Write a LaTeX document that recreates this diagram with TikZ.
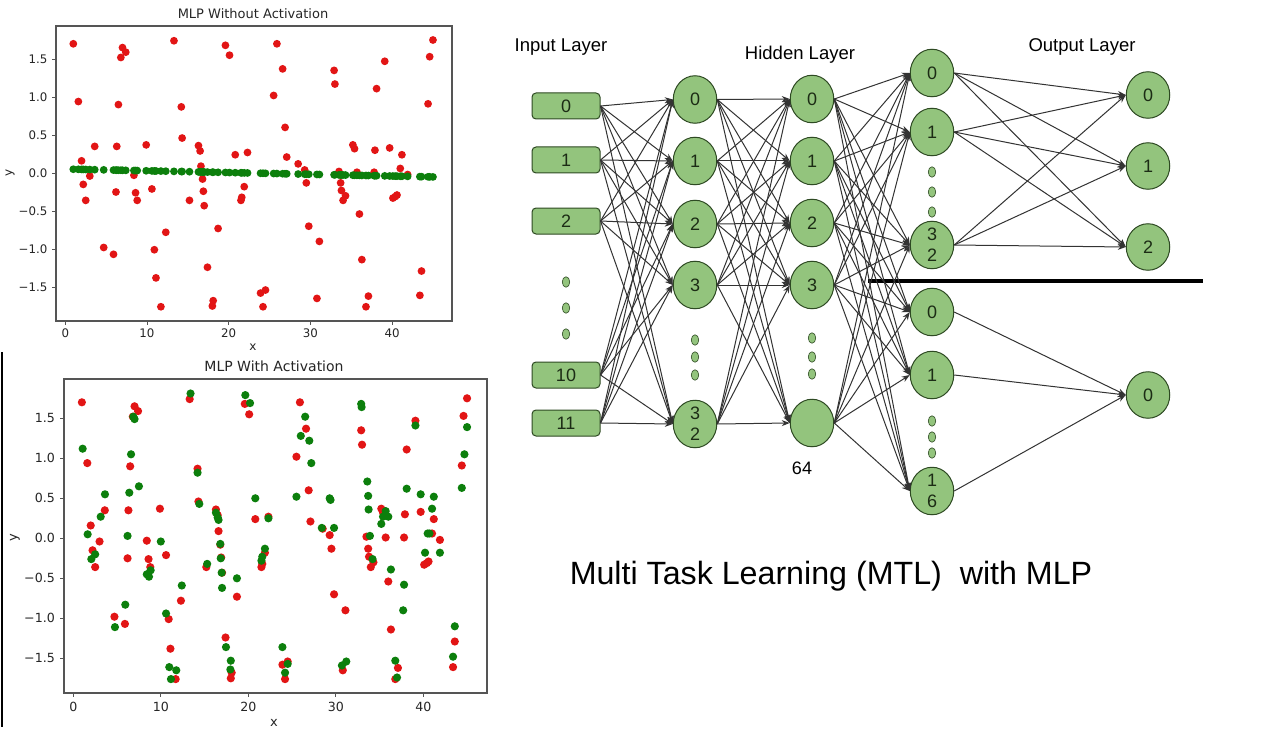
\documentclass[tikz,border=0pt]{standalone}
\usepackage{fontspec}
\setmainfont{Liberation Sans}
\newfontfamily\plotfont{DejaVu Sans}
\usetikzlibrary{arrows.meta,shapes.geometric}
\definecolor{nodegreen}{HTML}{93C47D}
\definecolor{nodeborder}{HTML}{2E4A23}
\definecolor{nodetext}{HTML}{1C2C15}
\definecolor{dotred}{HTML}{E21515}
\definecolor{dotgreen}{HTML}{0C7F0C}
\definecolor{axisgray}{HTML}{555555}
\definecolor{edgegray}{HTML}{333333}
\def\reddata{0.98/1.70, 1.6/0.94, 1.99/0.16, 2.2/-0.15, 2.5/-0.36, 3.0/-0.04, 3.6/0.35, 4.7/-0.98, 5.9/-1.07, 6.2/-0.25, 6.3/0.35, 6.5/0.90, 6.8/1.52, 7.0/1.65, 7.4/1.59, 8.4/-0.03, 8.6/-0.26, 8.8/-0.36, 9.9/0.37, 10.6/-0.21, 10.9/-1.01, 11.1/-1.38, 11.7/-1.76, 12.3/-0.78, 13.3/1.74, 14.2/0.87, 14.3/0.46, 15.2/-0.36, 16.3/0.36, 16.5/0.29, 16.6/0.09, 16.8/-0.08, 16.9/-0.24, 17.0/-0.43, 17.4/-1.24, 18.0/-1.75, 18.1/-1.68, 18.7/-0.73, 19.6/1.68, 20.1/1.55, 20.8/0.24, 21.5/-0.36, 21.6/-0.32, 21.9/-0.18, 22.3/0.27, 23.9/-1.58, 24.2/-1.76, 24.5/-1.54, 25.5/1.02, 25.9/1.70, 26.6/1.37, 26.9/0.60, 27.1/0.21, 28.5/0.12, 29.3/0.04, 29.5/-0.13, 29.8/-0.70, 30.8/-1.65, 31.1/-0.90, 32.9/1.35, 33.0/1.17, 33.5/0.02, 33.7/-0.13, 33.8/-0.23, 34.0/-0.36, 34.3/-0.30, 35.2/0.37, 35.4/0.32, 35.7/0.01, 36.0/-0.54, 36.3/-1.14, 36.8/-1.76, 37.1/-1.62, 37.8/0.01, 37.9/0.30, 38.1/1.11, 39.1/1.47, 39.7/0.33, 40.1/-0.33, 40.4/-0.31, 40.6/-0.29, 41.0/0.06, 41.2/0.24, 41.9/-0.02, 43.4/-1.61, 43.6/-1.29, 44.4/0.91, 44.6/1.53, 45.0/1.75}
\def\greendata{1.07/1.12, 1.64/0.05, 2.06/-0.26, 2.5/-0.20, 3.13/0.27, 3.62/0.55, 4.76/-1.11, 5.94/-0.83, 6.2/0.03, 6.4/0.57, 6.6/1.05, 6.86/1.52, 7.0/1.49, 7.5/0.65, 8.4/-0.45, 8.65/-0.48, 8.84/-0.40, 10.0/-0.04, 10.6/-0.94, 10.97/-1.61, 11.16/-1.76, 11.77/-1.65, 12.4/-0.59, 13.4/1.81, 14.2/0.82, 14.4/0.43, 15.3/-0.32, 16.3/0.32, 16.5/0.26, 16.6/0.23, 16.8/-0.07, 16.85/-0.25, 16.96/-0.43, 17.0/-0.62, 17.45/-1.36, 18.0/-1.53, 17.95/-1.64, 18.7/-0.5, 19.66/1.79, 20.2/1.69, 20.8/0.50, 21.5/-0.28, 21.6/-0.23, 21.9/-0.13, 22.3/0.25, 23.9/-1.36, 24.2/-1.68, 24.5/-1.57, 25.5/0.52, 26.0/1.28, 26.5/1.52, 26.97/1.22, 27.2/0.94, 28.4/0.13, 29.3/0.50, 29.4/0.48, 29.8/0.13, 30.7/-1.59, 31.2/-1.54, 32.9/1.68, 32.95/1.64, 33.6/0.71, 33.7/0.53, 33.75/0.36, 33.9/0.03, 34.2/-0.26, 35.2/0.18, 35.4/0.27, 35.7/0.34, 36.0/0.27, 36.3/-0.39, 36.8/-1.53, 37.0/-1.74, 37.8/-0.58, 37.7/-0.9, 38.1/0.62, 39.1/1.41, 39.7/0.55, 40.2/-0.18, 40.5/0.06, 40.7/0.06, 41.0/0.37, 41.2/0.52, 41.9/-0.18, 43.4/-1.48, 43.6/-1.10, 44.4/0.63, 44.7/1.05, 45.0/1.39}
\tikzset{
  inbox/.style={rectangle, rounded corners=4pt, draw=nodeborder, fill=nodegreen, text=nodetext,
    minimum width=68pt, minimum height=26pt, inner sep=0pt, line width=1pt,
    font=\fontsize{18}{21}\selectfont},
  neuron/.style={ellipse, draw=nodeborder, fill=nodegreen, text=nodetext,
    minimum width=43.5pt, minimum height=47.5pt, inner sep=0pt, line width=1pt, align=center,
    font=\fontsize{18}{21}\selectfont},
  vdot/.style={ellipse, draw=nodeborder, fill=nodegreen, minimum width=7.5pt,
    minimum height=10.5pt, inner sep=0pt, line width=0.6pt},
  conn/.style={draw=edgegray, line width=1pt, -{Stealth[length=8pt,width=6pt]}},
  layerlabel/.style={font=\fontsize{18.5}{22}\selectfont},
  axisframe/.style={draw=axisgray, line width=1.1pt},
  tickmark/.style={draw=axisgray, line width=0.9pt},
  ticklbl/.style={font=\plotfont\fontsize{11.8}{13}\selectfont, text=black!85, inner sep=0pt},
  ticklblb/.style={font=\plotfont\fontsize{12.6}{14}\selectfont, text=black!85, inner sep=0pt},
}
\begin{document}
\begin{tikzpicture}[x=1pt,y=-1pt]
\useasboundingbox (0,0) rectangle (1280,749);
\fill[white] (0,0) rectangle (1280,749);

% ---------------- top plot ----------------
\node[font=\plotfont\fontsize{13}{15}\selectfont, text=black!85] (t1) at (253,14) {MLP Without Activation};
\begin{scope}[shift={(65.3,173)}, x=8.17pt, y=76pt]
  \foreach \a/\b in \reddata { \fill[dotred] (\a,\b) circle[radius=3.9pt]; }
  \foreach \a/\b in \reddata { \fill[dotgreen] (\a,{0.052-0.0023*\a}) circle[radius=3.9pt]; }
\end{scope}
\draw[axisframe] (56,26) rectangle (452,321);
\foreach \k in {0,10,20,30,40} {
  \draw[tickmark] ({65.3+8.17*\k},321) -- ++(0,4);
  \node[ticklbl] at ({65.3+8.17*\k},333) {\k};
}
\foreach \v/\l in {1.5/1.5, 1.0/1.0, 0.5/0.5, 0/0.0, -0.5/−0.5, -1.0/−1.0, -1.5/−1.5} {
  \draw[tickmark] (56,{173-76*\v}) -- ++(-4,0);
  \node[ticklbl, anchor=east] at (47.5,{173-76*\v}) {\l};
}
\node[font=\plotfont\fontsize{12}{14}\selectfont, text=black!85] (xl1) at (253,347) {x};
\node[font=\plotfont\fontsize{12}{14}\selectfont, text=black!85, rotate=90] (yl1) at (10,173) {y};

% ---------------- bottom plot ----------------
\draw[line width=2pt] (1.5,352) -- (1.5,727);
\node[font=\plotfont\fontsize{14}{16}\selectfont, text=black!85] (t2) at (274,366) {MLP With Activation};
\begin{scope}[shift={(73.3,538.3)}, x=8.75pt, y=80pt]
  \foreach \a/\b in \reddata { \fill[dotred] (\a,\b) circle[radius=4.1pt]; }
  \foreach \a/\b in \greendata { \fill[dotgreen] (\a,\b) circle[radius=4.1pt]; }
\end{scope}
\draw[axisframe] (64,379) rectangle (487,693);
\foreach \k in {0,10,20,30,40} {
  \draw[tickmark] ({73.3+8.75*\k},693) -- ++(0,4);
  \node[ticklblb] at ({73.3+8.75*\k},707) {\k};
}
\foreach \v/\l in {1.5/1.5, 1.0/1.0, 0.5/0.5, 0/0.0, -0.5/−0.5, -1.0/−1.0, -1.5/−1.5} {
  \draw[tickmark] (64,{538.3-80*\v}) -- ++(-4,0);
  \node[ticklblb, anchor=east] at (55,{538.3-80*\v}) {\l};
}
\node[font=\plotfont\fontsize{13}{15}\selectfont, text=black!85] (xl2) at (274,723) {x};
\node[font=\plotfont\fontsize{13}{15}\selectfont, text=black!85, rotate=90] (yl2) at (15,538) {y};

% ---------------- network ----------------
\node[layerlabel] (lin) at (561,47) {Input Layer};
\node[layerlabel] (lhid) at (800,55) {Hidden Layer};
\node[layerlabel] (lout) at (1082,47) {Output Layer};

\node[inbox] (i0) at (566,106) {0};
\node[inbox] (i1) at (566,160) {1};
\node[inbox] (i2) at (566,221) {2};
\node[inbox] (i10) at (566,375) {10};
\node[inbox] (i11) at (566,423) {11};
\node[vdot] (id1) at (566,282) {};
\node[vdot] (id2) at (566,308) {};
\node[vdot] (id3) at (566,334) {};

\node[neuron] (a0) at (695,99.5) {0};
\node[neuron] (a1) at (695,161) {1};
\node[neuron] (a2) at (695,224) {2};
\node[neuron] (a3) at (695,285) {3};
\node[neuron] (a32) at (695,424) {3\\2};
\node[vdot] (ad1) at (695,340) {};
\node[vdot] (ad2) at (695,357) {};
\node[vdot] (ad3) at (695,375) {};

\node[neuron] (b0) at (812,99) {0};
\node[neuron] (b1) at (812,161) {1};
\node[neuron] (b2) at (812,223) {2};
\node[neuron] (b3) at (812,285) {3};
\node[neuron] (b64) at (812,423) {};
\node[vdot] (bd1) at (812,338) {};
\node[vdot] (bd2) at (812,357) {};
\node[vdot] (bd3) at (812,374) {};
\node[font=\fontsize{18}{21}\selectfont] (l64) at (802,468) {64};

\node[neuron] (c0) at (932,73) {0};
\node[neuron] (c1) at (932,132) {1};
\node[neuron] (c32) at (932,245) {3\\2};
\node[vdot] (cd1) at (932,172) {};
\node[vdot] (cd2) at (932,192) {};
\node[vdot] (cd3) at (932,212) {};

\node[neuron] (d0) at (932,312) {0};
\node[neuron] (d1) at (932,375) {1};
\node[neuron] (d16) at (932,491) {1\\6};
\node[vdot] (dd1) at (932,421) {};
\node[vdot] (dd2) at (932,437) {};
\node[vdot] (dd3) at (932,453) {};

\node[neuron, minimum height=46.5pt] (o0) at (1148,95) {0};
\node[neuron, minimum height=46.5pt] (o1) at (1148,166) {1};
\node[neuron, minimum height=46.5pt] (o2) at (1148,247) {2};
\node[neuron, minimum height=46.5pt] (p0) at (1148,395) {0};

\coordinate (sepL) at (868,281);
\coordinate (sepR) at (1203,281);
\draw[line width=4pt] (sepL) -- (sepR);

\foreach \s in {i0,i1,i2,i10,i11}
  \foreach \t in {a0,a1,a2,a3,a32}
    \draw[conn] (\s.east) -- (\t.west);
\foreach \s in {a0,a1,a2,a3,a32}
  \foreach \t in {b0,b1,b2,b3,b64}
    \draw[conn] (\s.east) -- (\t.west);
\foreach \s in {b0,b1,b2,b3,b64}
  \foreach \t in {c0,c1,c32,d0,d1,d16}
    \draw[conn] (\s.east) -- (\t.west);
\foreach \s in {c0,c1,c32}
  \foreach \t in {o0,o1,o2}
    \draw[conn] (\s.east) -- (\t.west);
\foreach \s in {d0,d1,d16}
  \draw[conn] (\s.east) -- (p0.west);

\node[font=\fontsize{32.2}{37}\selectfont] (title) at (831,576) {Multi Task Learning (MTL)\ \ with MLP};
\end{tikzpicture}
\end{document}
